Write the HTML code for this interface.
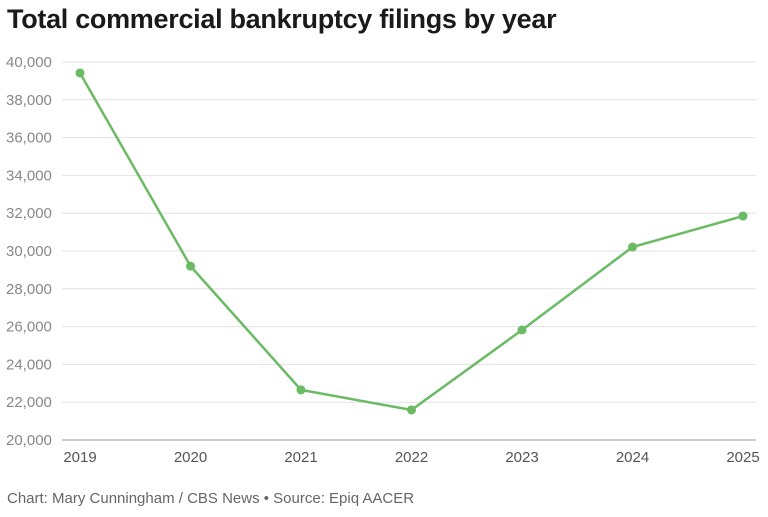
<!DOCTYPE html>
<html><head><meta charset="utf-8"><style>
body{margin:0;background:#fff;font-family:"Liberation Sans",sans-serif;}
#wrap{position:relative;width:768px;height:517px;overflow:hidden;}
h1{position:absolute;left:7px;top:4px;margin:0;font-size:27px;font-weight:bold;color:#1a1a1a;letter-spacing:-0.3px;}
#foot{position:absolute;left:7px;top:490px;font-size:15px;color:#666;}
svg{position:absolute;left:0;top:0;}
</style></head><body>
<div id="wrap">
<h1>Total commercial bankruptcy filings by year</h1>
<svg id="chart" width="768" height="517"></svg>
<div id="foot">Chart: Mary Cunningham / CBS News • Source: Epiq AACER</div>
</div>
<script>
const years=["2019","2020","2021","2022","2023","2024","2025"];
const filings=[39420,29200,22650,21590,25820,30210,31850];
const yTicks=[20000,22000,24000,26000,28000,30000,32000,34000,36000,38000,40000];
const NS="http://www.w3.org/2000/svg";
const svg=document.getElementById('chart');
const x0=80,x1=743,yTop=62,yBot=440,yMin=20000,yMax=40000;
const xs=i=>x0+(x1-x0)*i/(years.length-1);
const ys=v=>yBot-(v-yMin)/(yMax-yMin)*(yBot-yTop);
function mk(t,a){const e=document.createElementNS(NS,t);for(const k in a)e.setAttribute(k,a[k]);svg.appendChild(e);return e;}
yTicks.forEach(v=>{
 const l=mk('line',{x1:62,x2:756,y1:ys(v),y2:ys(v),stroke:v===yMin?'#999':'#e2e2e2','stroke-width':1});
 
 
 const t=mk('text',{x:6,y:ys(v)+5,'font-size':15,fill:'#888','font-family':'Liberation Sans, sans-serif'});
 t.textContent=v.toLocaleString('en-US');
 
 
});
years.forEach((y,i)=>{
 const t=mk('text',{x:xs(i),y:462,'font-size':15,fill:'#555','text-anchor':'middle','font-family':'Liberation Sans, sans-serif'});
 t.textContent=y;
 
 
});
const p=mk('polyline',{points:filings.map((v,i)=>xs(i)+','+ys(v)).join(' '),fill:'none',stroke:'#6abb63','stroke-width':2.5,'stroke-linejoin':'round'});


filings.forEach((v,i)=>{
 const c=mk('circle',{cx:xs(i),cy:ys(v),r:4.5,fill:'#6abb63'});
 
 
});
</script>
</body></html>
